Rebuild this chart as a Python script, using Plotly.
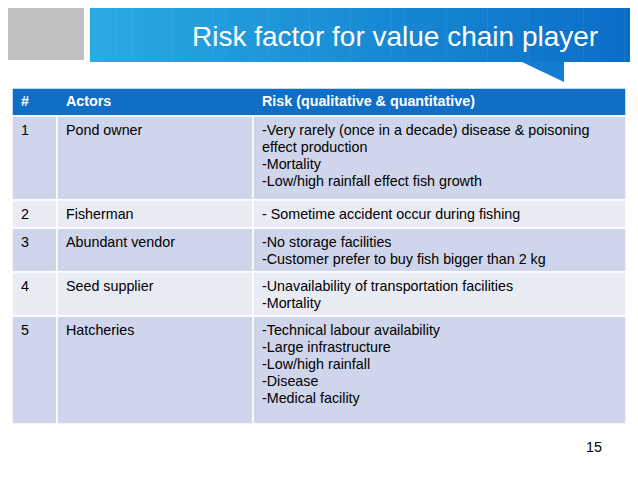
import plotly.graph_objects as go

# table content
numbers = ["1", "2", "3", "4", "5"]
actors = ["Pond owner", "Fisherman", "Abundant vendor", "Seed supplier", "Hatcheries"]
risks = [
    ["-Very rarely (once in a decade) disease & poisoning", "effect production", "-Mortality", "-Low/high rainfall effect fish growth"],
    ["- Sometime accident occur during fishing"],
    ["-No storage facilities", "-Customer prefer to buy fish bigger than 2 kg"],
    ["-Unavailability of transportation facilities", "-Mortality"],
    ["-Technical labour availability", "-Large infrastructure", "-Low/high rainfall", "-Disease", "-Medical facility"],
]
headers = ["#", "Actors", "Risk (qualitative & quantitative)"]
title = "Risk factor for value chain player"
page_no = "15"

W, H = 638, 478
OFF = 8  # page body margin in the browser
col_x = [12, 57, 253, 626]
row_y = [88, 116, 200, 228, 272, 316, 424]
row_colors = ["#CFD5EA", "#E9EBF5"]
FS = 14.3
LINE = 17

fig = go.Figure()
shapes = []
ann = []


def text(x, y, s, size=FS, color="black", anchor="middle"):
    ann.append(dict(x=x, y=y, text=s, showarrow=False, xanchor="left", yanchor=anchor,
                    font=dict(family="Liberation Sans", size=size, color=color)))


# banner: grey box plus blue gradient strip
shapes.append(dict(type="rect", x0=0, x1=84, y0=0, y1=60, fillcolor="#C0C0C0", line_width=0))
c0 = (42, 170, 226)
c1 = (10, 110, 200)
n = 40
for i in range(n):
    t = i / (n - 1)
    col = "rgb(%d,%d,%d)" % tuple(int(a + (b - a) * t) for a, b in zip(c0, c1))
    x0 = 90 + (W - 90) * i / n
    shapes.append(dict(type="rect", x0=x0, x1=x0 + (W - 90) / n + 0.5, y0=0, y1=62,
                       fillcolor=col, line_width=0))
shapes.append(dict(type="path", path="M 522 62 L 564 62 L 564 82 Z", fillcolor="rgb(20,125,210)", line_width=0))
ann.append(dict(x=395, y=36, text=title, showarrow=False, xanchor="center", yanchor="middle",
                font=dict(family="Liberation Sans", size=28, color="white")))

# header row
shapes.append(dict(type="rect", x0=col_x[0], x1=col_x[-1], y0=row_y[0], y1=row_y[1],
                   fillcolor="#0F6FC6", line=dict(color="white", width=1.5)))
for j, h in enumerate(headers):
    text(col_x[j] + 7, row_y[0] + 13, "<b>" + h + "</b>", color="white")

# body rows
for i in range(len(numbers)):
    y0, y1 = row_y[i + 1], row_y[i + 2]
    for j in range(3):
        shapes.append(dict(type="rect", x0=col_x[j], x1=col_x[j + 1], y0=y0, y1=y1,
                           fillcolor=row_colors[i % 2], line=dict(color="white", width=1.5)))
    text(col_x[0] + 7, y0 + 14, numbers[i])
    text(col_x[1] + 7, y0 + 14, actors[i])
    for k, line in enumerate(risks[i]):
        text(col_x[2] + 7, y0 + 14 + k * LINE, line)

ann.append(dict(x=604, y=447, text=page_no, showarrow=False, xanchor="right", yanchor="middle",
                font=dict(family="Liberation Sans", size=FS, color="black")))

fig.update_layout(
    width=W - OFF, height=H - OFF, margin=dict(l=0, r=0, t=0, b=0),
    plot_bgcolor="white", paper_bgcolor="white",
    xaxis=dict(range=[OFF, W], visible=False, fixedrange=True),
    yaxis=dict(range=[H, OFF], visible=False, fixedrange=True),
    shapes=shapes, annotations=ann, showlegend=False,
)
fig.write_html("out.html")
